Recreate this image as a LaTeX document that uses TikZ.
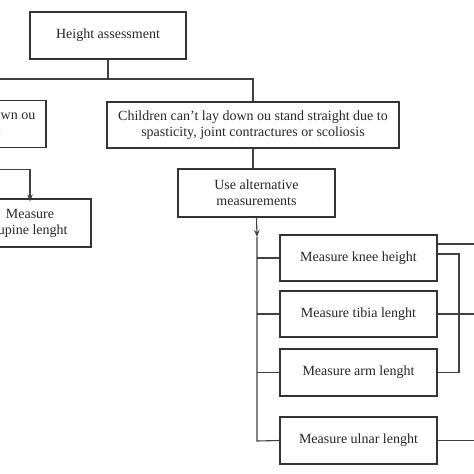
\documentclass[tikz,border=0pt]{standalone}
\usepackage{fontspec}
\setmainfont{Liberation Serif}
\usetikzlibrary{arrows.meta}
\begin{document}
\begin{tikzpicture}[x=1pt,y=-1pt,
  box/.style={draw=black!80, line width=1.1pt, align=center, inner sep=0pt,
    font=\fontsize{14}{16}\selectfont, text=black!85},
  conn/.style={draw=black!75, line width=1.1pt},
  arr/.style={conn, -{Stealth[length=7pt,width=5.5pt]}}]
\useasboundingbox (0,0) rectangle (474,474);
\clip (0,0) rectangle (474,474);
\fill[white] (0,0) rectangle (474,474);
\node[box, minimum width=156, minimum height=47] (ha) at (108,35.5) {Height assessment};
\node[box, minimum width=166, minimum height=47] (left) at (-37,124) {Children can lay down ou\\stand straight};
\node[box, minimum width=292, minimum height=46] (ch) at (253,125) {Children can’t lay down ou stand straight due to\\spasticity, joint contractures or scoliosis};
\node[box, minimum width=122, minimum height=48] (sup) at (30,223) {Measure\\supine lenght};
\node[box, minimum width=157, minimum height=48] (use) at (256.5,193) {Use alternative\\measurements};
\node[box, minimum width=157, minimum height=46] (knee) at (358.5,258) {Measure knee height};
\node[box, minimum width=157, minimum height=46] (tib) at (358.5,314) {Measure tibia lenght};
\node[box, minimum width=157, minimum height=47] (arm) at (358.5,372.5) {Measure arm lenght};
\node[box, minimum width=157, minimum height=47] (uln) at (358.5,440.5) {Measure ulnar lenght};
% top tree
\coordinate (j) at (108,79);
\coordinate (jl) at (-37,79);
\draw[conn] (ha.south) -- (j);
\draw[conn] (left.north) -- (jl) -- (j) -| (ch.north);
\draw[conn] (ch.south) -- (ch.south |- use.north);
% left
\draw[arr] (left.south) -- ++(0,21) -| ([yshift=-3pt]sup.north);
% alternative measures
\coordinate (v) at (257,237);
\coordinate (vb) at (257,441);
\draw[arr] (use.south) -- (v);
\draw[conn] (v) -- (vb) -- (uln.west);
\draw[conn] (knee.west) -- (knee.west -| v);
\draw[conn] (tib.west) -- (tib.west -| v);
\draw[conn] (arm.west) -- (arm.west -| v);
% right
\coordinate (r1) at (474,244);
\coordinate (r2) at (474,314);
\coordinate (r3) at (474,441);
\coordinate (b) at (459,254);
\draw[conn] (knee.east |- r1) -- (r1);
\draw[conn] (knee.east |- b) -- (b) |- (arm.east);
\draw[conn] (tib.east) -- (r2);
\draw[conn] (uln.east) -- (uln.east -| r3);
\end{tikzpicture}
\end{document}
